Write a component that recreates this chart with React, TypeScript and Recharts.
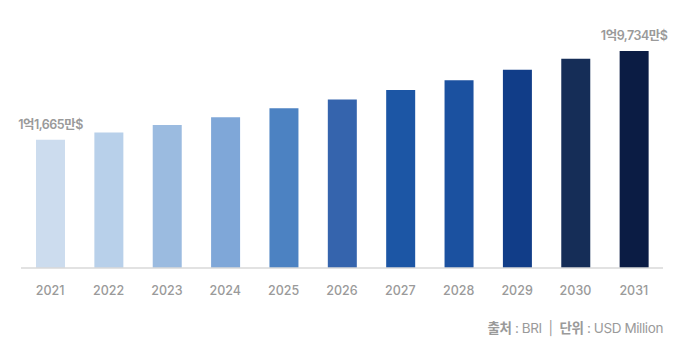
import React from "react";
import { BarChart, Bar, XAxis, YAxis, Cell, LabelList } from "recharts";

const years = ["2021", "2022", "2023", "2024", "2025", "2026", "2027", "2028", "2029", "2030", "2031"];
const values = [11665, 12318, 12998, 13715, 14516, 15327, 16193, 17069, 18029, 19026, 19734];
const valueLabels = ["1억1,665만$", "", "", "", "", "", "", "", "", "", "1억9,734만$"];
const barColors = [
  "#ccdcee", "#b8d0ea", "#9bbbe0", "#7fa7d8", "#4c82c2", "#3564ad",
  "#1c56a5", "#1b51a0", "#113d88", "#152d57", "#0b1c44",
];

const data = years.map((y, i) => ({ year: y, value: values[i], label: valueLabels[i] }));

const FONT = "Inter, 'Noto Sans CJK KR', sans-serif";

const renderLabel = (props: any) => {
  const { x, y, width, index } = props;
  const text = valueLabels[index];
  if (!text) return null;
  return (
    <text
      x={Number(x) + Number(width) / 2}
      y={Number(y) - 11}
      textAnchor="middle"
      fill="#9a9a9a"
      fontSize={12.5}
      fontWeight={600}
      fontFamily={FONT}
      letterSpacing={-0.5}
    >
      {text}
    </text>
  );
};

export default function App() {
  return (
    <div style={{ position: "relative", width: 700, height: 353, margin: -8, background: "#fff" }}>
      <BarChart
        width={700}
        height={353}
        data={data}
        margin={{ top: 26, right: 37, left: 21, bottom: 55 }}
        barCategoryGap="25%"
      >
        <XAxis
          dataKey="year"
          tickLine={false}
          axisLine={{ stroke: "#d8d8d8", strokeWidth: 1.5 }}
          tickMargin={12}
          height={30}
          tick={{ fill: "#9a9a9a", fontSize: 12.5, fontFamily: FONT, fontWeight: 500 }}
          interval={0}
        />
        <YAxis hide domain={[0, 22000]} />
        <Bar dataKey="value" isAnimationActive={false} barSize={29}>
          {data.map((d, i) => (
            <Cell key={d.year} fill={barColors[i]} />
          ))}
          <LabelList dataKey="label" content={renderLabel} />
        </Bar>
      </BarChart>
      <div
        style={{
          position: "absolute",
          right: 37,
          top: 317,
          fontFamily: FONT,
          fontSize: 13.5,
          color: "#9a9a9a",
          whiteSpace: "nowrap",
          letterSpacing: -0.4,
        }}
      >
        <span style={{ fontWeight: 700 }}>출처</span> : BRI &nbsp;|&nbsp; <span style={{ fontWeight: 700 }}>단위</span> : USD Million
      </div>
    </div>
  );
}
